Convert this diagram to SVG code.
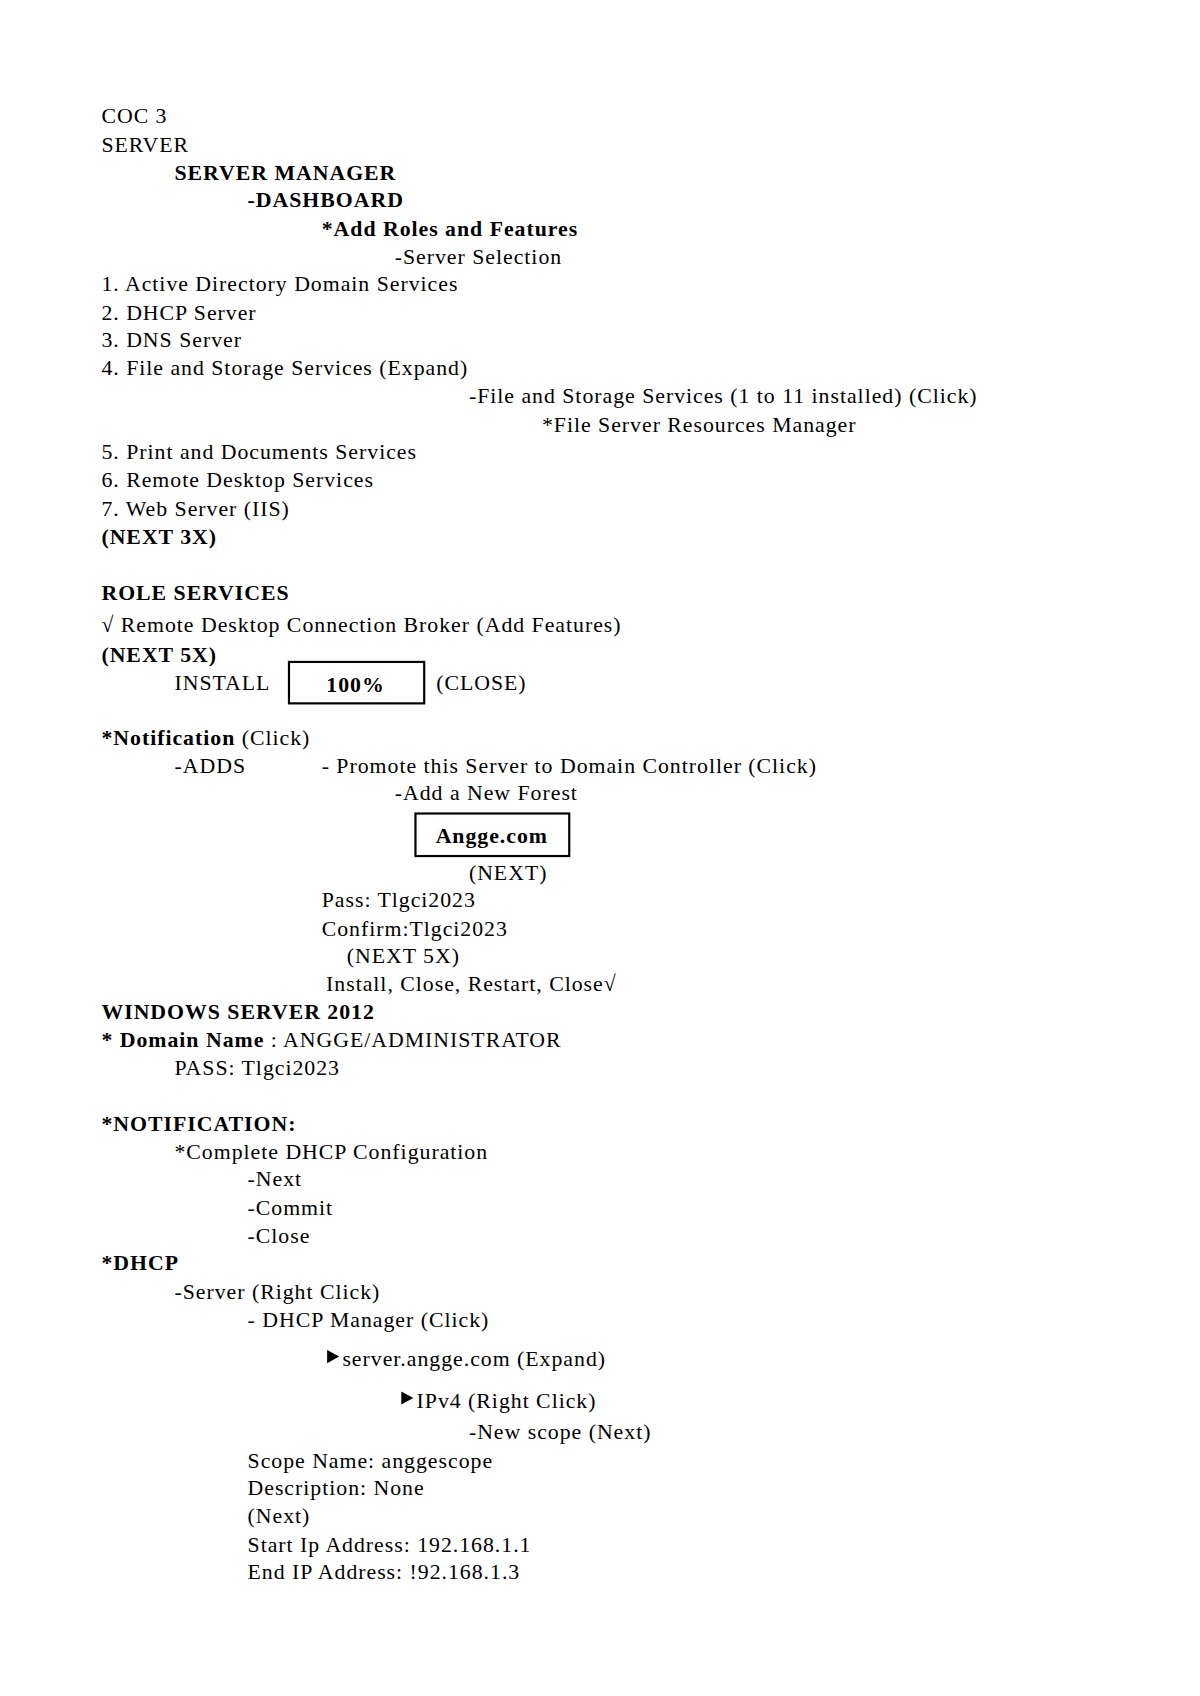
<svg xmlns="http://www.w3.org/2000/svg" width="1200" height="1696" viewBox="0 0 1200 1696">
<style>
text{font-family:"Liberation Serif","Times New Roman",serif;font-size:20px;fill:#000;letter-spacing:0.9px}
.b{font-weight:bold}
.box{fill:none;stroke:#000;stroke-width:2}
</style>
<rect width="1200" height="1696" fill="#fff"/>
<g transform="scale(1.0905)">
<text x="93" y="113">COC 3</text>
<text x="93" y="139">SERVER</text>
<text x="160" y="165" class="b">SERVER MANAGER</text>
<text x="227" y="190" class="b">-DASHBOARD</text>
<text x="295" y="216" class="b">*Add Roles and Features</text>
<text x="362" y="242">-Server Selection</text>
<text x="93" y="267">1. Active Directory Domain Services</text>
<text x="93" y="293">2. DHCP Server</text>
<text x="93" y="318">3. DNS Server</text>
<text x="93" y="344">4. File and Storage Services (Expand)</text>
<text x="430" y="370">-File and Storage Services (1 to 11 installed) (Click)</text>
<text x="497" y="396">*File Server Resources Manager</text>
<text x="93" y="421">5. Print and Documents Services</text>
<text x="93" y="447">6. Remote Desktop Services</text>
<text x="93" y="473">7. Web Server (IIS)</text>
<text x="93" y="499" class="b">(NEXT 3X)</text>
<text x="93" y="550" class="b">ROLE SERVICES</text>
<text x="93" y="580"><tspan class="b">√</tspan>  Remote Desktop Connection Broker (Add Features)</text>
<text x="93" y="607" class="b">(NEXT 5X)</text>
<text x="160" y="633">INSTALL</text>
<g id="install-box"><rect x="265" y="607" width="124" height="38" class="box"/><text x="326" y="635" class="b" text-anchor="middle">100%</text></g>
<text x="400" y="633">(CLOSE)</text>
<text x="93" y="683"><tspan class="b">*Notification</tspan> (Click)</text>
<text x="160" y="709">-ADDS</text>
<text x="295" y="709">- Promote this Server to Domain Controller (Click)</text>
<text x="362" y="734">-Add a New Forest</text>
<g id="domain-box"><rect x="381" y="746" width="141" height="39" class="box"/><text x="451" y="773" class="b" text-anchor="middle">Angge.com</text></g>
<text x="430" y="807">(NEXT)</text>
<text x="295" y="832">Pass: Tlgci2023</text>
<text x="295" y="858">Confirm:Tlgci2023</text>
<text x="318" y="883">(NEXT 5X)</text>
<text x="299" y="909">Install, Close, Restart, Close√</text>
<text x="93" y="934" class="b">WINDOWS SERVER 2012</text>
<text x="93" y="960"><tspan class="b">* Domain Name</tspan> : ANGGE/ADMINISTRATOR</text>
<text x="160" y="986">PASS: Tlgci2023</text>
<text x="93" y="1037" class="b">*NOTIFICATION:</text>
<text x="160" y="1063">*Complete DHCP Configuration</text>
<text x="227" y="1088">-Next</text>
<text x="227" y="1114">-Commit</text>
<text x="227" y="1140">-Close</text>
<text x="93" y="1165" class="b">*DHCP</text>
<text x="160" y="1191">-Server (Right Click)</text>
<text x="227" y="1217">- DHCP Manager (Click)</text>
<polygon points="300,1238 300,1250 311,1244" fill="#000"/>
<text x="314" y="1253">server.angge.com (Expand)</text>
<polygon points="368,1276 368,1288 379,1282" fill="#000"/>
<text x="382" y="1291">IPv4 (Right Click)</text>
<text x="430" y="1320">-New scope (Next)</text>
<text x="227" y="1346">Scope Name: anggescope</text>
<text x="227" y="1371">Description: None</text>
<text x="227" y="1397">(Next)</text>
<text x="227" y="1423">Start Ip Address: 192.168.1.1</text>
<text x="227" y="1448">End IP Address: !92.168.1.3</text>
</g>
</svg>
